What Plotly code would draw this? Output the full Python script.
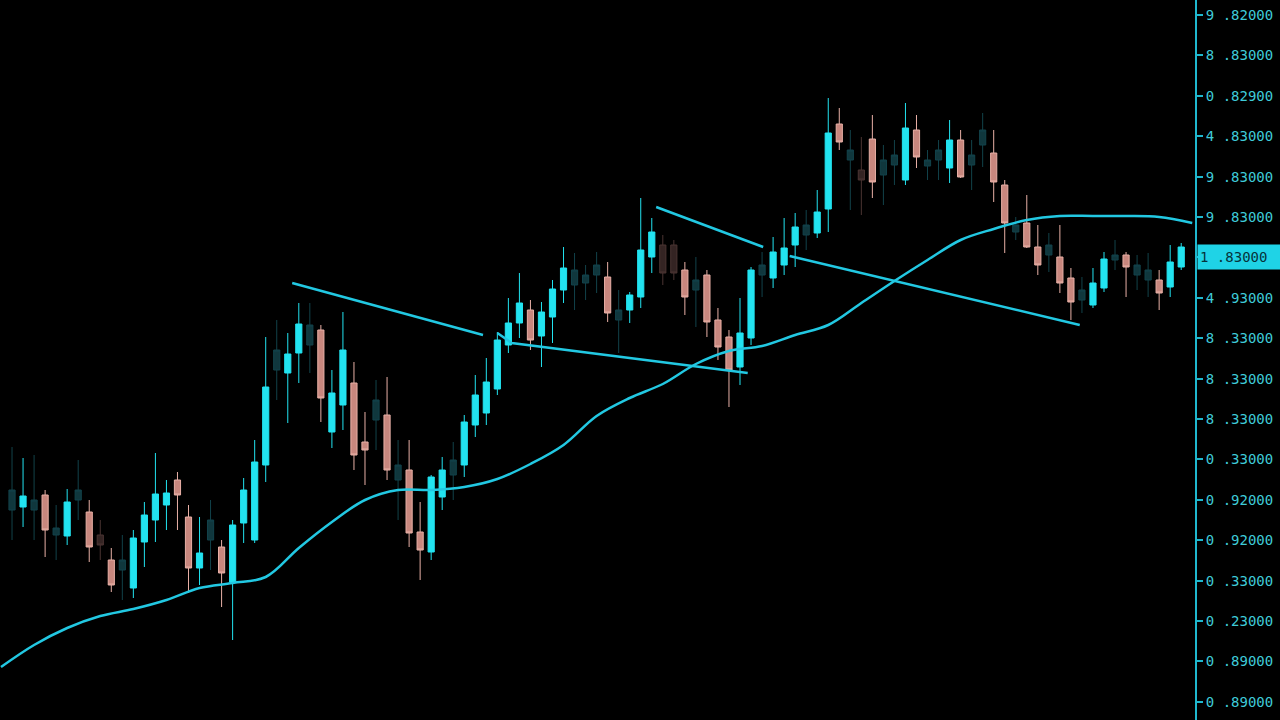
import plotly.graph_objects as go

# main (bright) candles: bar slot, open, high, low, close
main_slot = [1, 3, 5, 7, 9, 11, 12, 13, 14, 15, 16, 17, 19, 20, 21, 22, 23, 25, 26, 28,
             29, 30, 31, 32, 34, 36, 37, 38, 39, 41, 42, 43, 44, 45, 46, 47, 48, 49, 50, 54,
             56, 57, 58, 61, 63, 64, 65, 66, 67, 69, 70, 71, 73, 74, 75, 78, 81, 82, 85, 86,
             89, 90, 92, 93, 95, 96, 98, 99, 101, 104, 105, 106]
main_open = [0.82465, 0.82525, 0.82320, 0.82440, 0.82200, 0.82060, 0.82290, 0.82400, 0.82475, 0.82600,
             0.82415, 0.82160, 0.82265, 0.82090, 0.82385, 0.82300, 0.82675, 0.83135, 0.83235, 0.83350,
             0.82840, 0.82975, 0.83085, 0.82790, 0.82925, 0.82650, 0.82340, 0.82240, 0.82515, 0.82675,
             0.82875, 0.82935, 0.83055, 0.83275, 0.83385, 0.83450, 0.83320, 0.83415, 0.83550, 0.83615,
             0.83450, 0.83515, 0.83715, 0.83650, 0.83625, 0.83400, 0.83315, 0.83165, 0.83310, 0.83610,
             0.83675, 0.83775, 0.83835, 0.83955, 0.84380, 0.84305, 0.84100, 0.84350, 0.84160, 0.84300,
             0.84235, 0.84075, 0.83885, 0.83765, 0.83715, 0.83610, 0.83475, 0.83560, 0.83725, 0.83600,
             0.83565, 0.83665]
main_high = [0.82710, 0.82550, 0.82555, 0.82500, 0.82260, 0.82350, 0.82490, 0.82735, 0.82600, 0.82640,
             0.82475, 0.82415, 0.82300, 0.82400, 0.82610, 0.82800, 0.83315, 0.83335, 0.83485, 0.83375,
             0.83150, 0.83440, 0.83190, 0.82940, 0.83115, 0.82800, 0.82490, 0.82625, 0.82715, 0.82925,
             0.83125, 0.83210, 0.83340, 0.83510, 0.83635, 0.83500, 0.83490, 0.83600, 0.83765, 0.83690,
             0.83540, 0.84010, 0.83910, 0.83690, 0.83650, 0.83460, 0.83350, 0.83510, 0.83665, 0.83815,
             0.83910, 0.83935, 0.84050, 0.84510, 0.84460, 0.84425, 0.84485, 0.84425, 0.84400, 0.84350,
             0.84350, 0.84100, 0.84025, 0.83875, 0.83875, 0.83660, 0.83660, 0.83740, 0.83740, 0.83650,
             0.83775, 0.83785]
main_low = [0.82365, 0.82215, 0.82275, 0.82190, 0.82040, 0.82010, 0.82165, 0.82290, 0.82350, 0.82350,
            0.82035, 0.82075, 0.81965, 0.81800, 0.82285, 0.82285, 0.82590, 0.82885, 0.83085, 0.82890,
            0.82760, 0.82850, 0.82650, 0.82575, 0.82600, 0.82265, 0.82100, 0.82200, 0.82450, 0.82615,
            0.82815, 0.82875, 0.83025, 0.83235, 0.83310, 0.83250, 0.83165, 0.83285, 0.83485, 0.83390,
            0.83385, 0.83460, 0.83635, 0.83425, 0.83315, 0.83200, 0.82965, 0.83075, 0.83275, 0.83560,
            0.83625, 0.83665, 0.83810, 0.83840, 0.84250, 0.84010, 0.84075, 0.84160, 0.84085, 0.84110,
            0.83990, 0.83735, 0.83760, 0.83625, 0.83535, 0.83400, 0.83460, 0.83540, 0.83515, 0.83450,
            0.83515, 0.83650]
main_close = [0.82520, 0.82350, 0.82490, 0.82265, 0.82075, 0.82310, 0.82425, 0.82530, 0.82535, 0.82525,
              0.82160, 0.82235, 0.82135, 0.82375, 0.82550, 0.82690, 0.83065, 0.83230, 0.83380, 0.83010,
              0.83035, 0.83250, 0.82725, 0.82750, 0.82650, 0.82335, 0.82250, 0.82615, 0.82650, 0.82890,
              0.83025, 0.83090, 0.83300, 0.83385, 0.83485, 0.83300, 0.83440, 0.83555, 0.83660, 0.83435,
              0.83525, 0.83750, 0.83840, 0.83515, 0.83390, 0.83265, 0.83150, 0.83335, 0.83650, 0.83740,
              0.83760, 0.83865, 0.83940, 0.84335, 0.84290, 0.84090, 0.84360, 0.84215, 0.84300, 0.84115,
              0.84090, 0.83885, 0.83765, 0.83675, 0.83585, 0.83490, 0.83585, 0.83705, 0.83665, 0.83535,
              0.83690, 0.83765]

# dim background candles
faint_slot = [0, 2, 4, 6, 8, 10, 18, 24, 27, 33, 35, 40, 51, 52, 53, 55, 59, 60, 62, 68,
              72, 76, 77, 79, 80, 83, 84, 87, 88, 91, 94, 97, 100, 102, 103]
faint_open = [0.82450, 0.82450, 0.82325, 0.82500, 0.82325, 0.82150, 0.82300, 0.83150, 0.83275, 0.82900,
              0.82600, 0.82625, 0.83575, 0.83585, 0.83625, 0.83400, 0.83775, 0.83775, 0.83550, 0.83625,
              0.83825, 0.84200, 0.84150, 0.84125, 0.84175, 0.84170, 0.84200, 0.84175, 0.84275, 0.83840,
              0.83725, 0.83500, 0.83700, 0.83625, 0.83600]
faint_high = [0.82765, 0.82725, 0.82475, 0.82700, 0.82400, 0.82325, 0.82500, 0.83400, 0.83485, 0.83100,
              0.82800, 0.82790, 0.83735, 0.83675, 0.83740, 0.83550, 0.83825, 0.83800, 0.83715, 0.83740,
              0.83950, 0.84350, 0.84315, 0.84275, 0.84300, 0.84250, 0.84300, 0.84300, 0.84435, 0.83915,
              0.83835, 0.83615, 0.83800, 0.83725, 0.83735]
faint_low = [0.82300, 0.82300, 0.82200, 0.82400, 0.82200, 0.82000, 0.82150, 0.83000, 0.83135, 0.82750,
             0.82400, 0.82500, 0.83450, 0.83500, 0.83535, 0.83235, 0.83575, 0.83600, 0.83365, 0.83515,
             0.83750, 0.83950, 0.83925, 0.83975, 0.84075, 0.84100, 0.84100, 0.84050, 0.84165, 0.83800,
             0.83640, 0.83435, 0.83650, 0.83550, 0.83515]
faint_close = [0.82550, 0.82500, 0.82360, 0.82550, 0.82275, 0.82200, 0.82400, 0.83250, 0.83375, 0.83000,
               0.82675, 0.82700, 0.83650, 0.83625, 0.83675, 0.83450, 0.83635, 0.83635, 0.83600, 0.83675,
               0.83875, 0.84250, 0.84100, 0.84200, 0.84225, 0.84200, 0.84250, 0.84225, 0.84350, 0.83875,
               0.83775, 0.83550, 0.83725, 0.83675, 0.83650]

# moving average
ma_slot = [-1, 2, 5, 8, 11, 14, 17, 20, 23, 26, 29, 32, 35, 38, 41, 44, 47, 50, 53, 56,
           59, 62, 65, 68, 71, 74, 77, 80, 83, 86, 89, 92, 95, 98, 101, 104, 107]
ma_value = [0.81665, 0.81775, 0.81860, 0.81920, 0.81955, 0.82000, 0.82060, 0.82085, 0.82115, 0.82260,
            0.82390, 0.82500, 0.82550, 0.82550, 0.82565, 0.82605, 0.82680, 0.82775, 0.82920, 0.83010,
            0.83080, 0.83180, 0.83245, 0.83270, 0.83325, 0.83375, 0.83485, 0.83595, 0.83700, 0.83800,
            0.83855, 0.83900, 0.83920, 0.83920, 0.83920, 0.83915, 0.83885]

# hand-drawn trend lines
trend_lines = [
    ([25.4, 42.7], [0.83585, 0.83325]),
    ([44.0, 45.3, 66.7], [0.83335, 0.83285, 0.83135]),
    ([58.4, 68.1], [0.83965, 0.83765]),
    ([70.5, 96.8], [0.83720, 0.83375]),
]

tick_labels = ["9 .82000", "8 .83000", "0 .82900", "4 .83000", "9 .83000", "9 .83000", "",
               "4 .93000", "8 .33000", "8 .33000", "8 .33000", "0 .33000", "0 .92000", "0 .92000",
               "0 .33000", "0 .23000", "0 .89000", "0 .89000"]
last_label = "1 .83000"

CYAN = "#22e3f0"
LINE = "#22c8e2"

fig = go.Figure()

fig.add_trace(go.Candlestick(
    x=faint_slot, open=faint_open, high=faint_high, low=faint_low, close=faint_close,
    increasing=dict(line=dict(color="#1a5f6a", width=1), fillcolor="#174f58"),
    decreasing=dict(line=dict(color="#6b4b48", width=1), fillcolor="#4a3432"),
    whiskerwidth=0, opacity=0.7, showlegend=False, hoverinfo="skip"
))

fig.add_trace(go.Candlestick(
    x=main_slot, open=main_open, high=main_high, low=main_low, close=main_close,
    increasing=dict(line=dict(color=CYAN, width=1), fillcolor=CYAN),
    decreasing=dict(line=dict(color="#e8b0a6", width=1), fillcolor="#c8877e"),
    whiskerwidth=0, showlegend=False
))

fig.add_trace(go.Scatter(
    x=ma_slot, y=ma_value, mode="lines",
    line=dict(color=LINE, width=2.5, shape="spline"), showlegend=False, hoverinfo="skip"
))

for xs, ys in trend_lines:
    fig.add_trace(go.Scatter(
        x=xs, y=ys, mode="lines",
        line=dict(color=LINE, width=2.5), showlegend=False, hoverinfo="skip"
    ))

tick_vals = [0.85 - (15 + 40.4 * k) / 20000 for k in range(len(tick_labels))]

fig.add_annotation(
    xref="paper", x=1, y=tick_vals[6], yref="y",
    xanchor="left", yanchor="middle", xshift=2,
    text=last_label, showarrow=False, align="left",
    font=dict(family="DejaVu Sans Mono", size=14, color="#06333b"),
    bgcolor="#1fd3e6", width=80, height=20, borderpad=2
)

fig.update_layout(
    width=1280, height=720,
    margin=dict(l=0, r=85, t=0, b=0),
    paper_bgcolor="#000000", plot_bgcolor="#000000",
    boxgap=0.2,
    xaxis=dict(range=[-1.09, 107.25], visible=False, rangeslider=dict(visible=False)),
    yaxis=dict(
        range=[0.814, 0.850], side="right", showgrid=False, zeroline=False,
        showline=True, linecolor="#1fb8cf", linewidth=2,
        ticks="outside", ticklen=6, tickcolor="#1fb8cf", tickwidth=1.5,
        tickvals=tick_vals, ticktext=tick_labels,
        tickfont=dict(family="DejaVu Sans Mono", size=14, color="#3fcbd8")
    ),
    hovermode=False
)

fig.write_html(
    "out.html",
    config={"displayModeBar": False},
    post_script="document.body.style.margin='0';document.body.style.background='#000';"
)
